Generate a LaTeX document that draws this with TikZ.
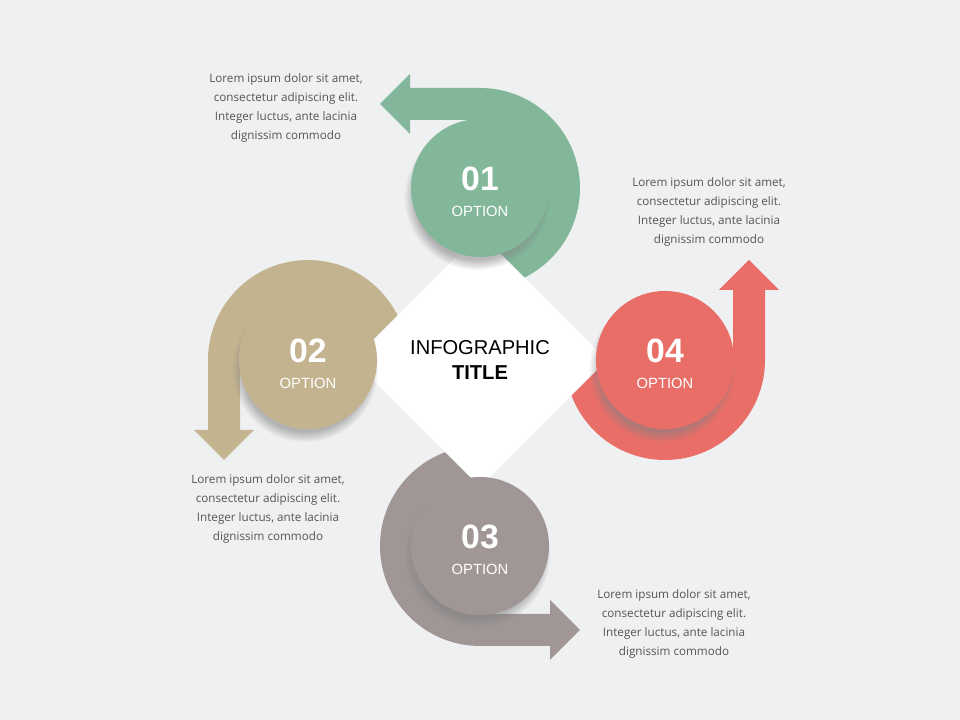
\documentclass[tikz,border=0pt]{standalone}
\usepackage{fontspec}
\setmainfont{Liberation Sans}
\newfontfamily\bodyfont{Open Sans}
\usepackage{tikz}
\usetikzlibrary{shapes.geometric,shadows,fadings}
\pgfdeclarelayer{background}
\pgfdeclarelayer{foreground}
\pgfsetlayers{background,main,foreground}
\definecolor{pagebg}{RGB}{239,240,242}
\definecolor{optgreen}{RGB}{130,183,154}
\definecolor{optsand}{RGB}{195,179,143}
\definecolor{optgrey}{RGB}{160,150,150}
\definecolor{optred}{RGB}{233,110,104}
\definecolor{bodygrey}{RGB}{85,85,85}
\tikzset{
  optcircle/.style={circle, fill=#1, minimum size=3.45cm, inner sep=0pt, text=white, align=center,
    font=\fontsize{10.5}{18.5}\selectfont,
    circular drop shadow={shadow xshift=-2pt, shadow yshift=-6pt, shadow scale=1.06, opacity=0.55}},
  bodytext/.style={text=bodygrey, align=center, font=\bodyfont\fontsize{8.3}{13.4}\selectfont},
}

\begin{document}
\begin{tikzpicture}[x=0.025cm,y=0.025cm]
\begin{pgfonlayer}{background}
\fill[pagebg] (0,0) rectangle (960,720);
\begin{scope}[shift={(480,532)}]
\fill[optgreen] (-90:100) arc[start angle=-90, end angle=90, radius=100] -- (-70,100) -- (-70,114) -- (-100,84) -- (-70,54) -- (-70,68) -- (0,68) arc[start angle=90, end angle=-90, radius=68] -- cycle;
\end{scope}
\begin{scope}[shift={(308,360)}, rotate=90]
\fill[optsand] (-90:100) arc[start angle=-90, end angle=90, radius=100] -- (-70,100) -- (-70,114) -- (-100,84) -- (-70,54) -- (-70,68) -- (0,68) arc[start angle=90, end angle=-90, radius=68] -- cycle;
\end{scope}
\begin{scope}[shift={(480,174)}, rotate=180]
\fill[optgrey] (-90:100) arc[start angle=-90, end angle=90, radius=100] -- (-70,100) -- (-70,114) -- (-100,84) -- (-70,54) -- (-70,68) -- (0,68) arc[start angle=90, end angle=-90, radius=68] -- cycle;
\end{scope}
\begin{scope}[shift={(665,360)}, rotate=270]
\fill[optred] (-90:100) arc[start angle=-90, end angle=90, radius=100] -- (-70,100) -- (-70,114) -- (-100,84) -- (-70,54) -- (-70,68) -- (0,68) arc[start angle=90, end angle=-90, radius=68] -- cycle;
\end{scope}
\end{pgfonlayer}
\node[diamond, fill=white, minimum size=6.35cm, inner sep=0pt, align=center, font=\fontsize{14.3}{18.3}\selectfont] (title) at (480,360) {INFOGRAPHIC\\\textbf{TITLE}};
\node[optcircle=optgreen] (opt1) at (480,532) {{\fontsize{24}{17}\selectfont\bfseries\rule{0pt}{21.5pt}01}\\OPTION};
\node[optcircle=optsand] (opt2) at (308,360) {{\fontsize{24}{17}\selectfont\bfseries\rule{0pt}{21.5pt}02}\\OPTION};
\node[optcircle=optgrey] (opt3) at (480,174) {{\fontsize{24}{17}\selectfont\bfseries\rule{0pt}{21.5pt}03}\\OPTION};
\node[optcircle=optred] (opt4) at (665,360) {{\fontsize{24}{17}\selectfont\bfseries\rule{0pt}{21.5pt}04}\\OPTION};
\node[bodytext] (txt1) at (286,612) {Lorem ipsum dolor sit amet,\\consectetur adipiscing elit.\\Integer luctus, ante lacinia\\dignissim commodo};
\node[bodytext] (txt2) at (268,211) {Lorem ipsum dolor sit amet,\\consectetur adipiscing elit.\\Integer luctus, ante lacinia\\dignissim commodo};
\node[bodytext] (txt3) at (674,96) {Lorem ipsum dolor sit amet,\\consectetur adipiscing elit.\\Integer luctus, ante lacinia\\dignissim commodo};
\node[bodytext] (txt4) at (709,508) {Lorem ipsum dolor sit amet,\\consectetur adipiscing elit.\\Integer luctus, ante lacinia\\dignissim commodo};
\end{tikzpicture}
\end{document}
